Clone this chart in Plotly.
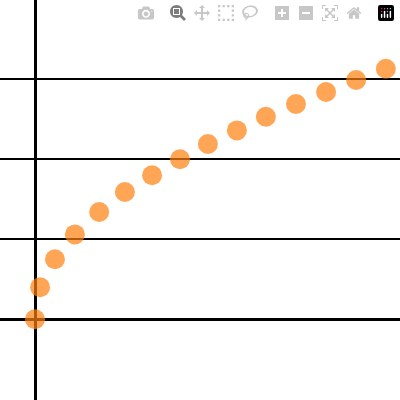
import plotly.graph_objects as go

x_vals = [0, 0.14, 0.55, 1.1, 1.77, 2.48, 3.23, 4.0, 4.77, 5.57, 6.37, 7.2, 8.03, 8.86, 9.68]
y_vals = [0, 0.4, 0.75, 1.06, 1.34, 1.59, 1.8, 2.0, 2.19, 2.36, 2.53, 2.69, 2.84, 2.99, 3.13]

fig = go.Figure(go.Scatter(x=x_vals, y=y_vals, mode="markers",
                           marker=dict(size=20, color="#FF7F0E", opacity=0.7, line=dict(width=0))))
fig.update_layout(width=400, height=400, margin=dict(l=0, r=0, t=0, b=0),
                  plot_bgcolor="white", paper_bgcolor="white", showlegend=False)
fig.update_xaxes(range=[-0.966, 10.07], showgrid=False, zeroline=True, zerolinecolor="black",
                 zerolinewidth=3, showticklabels=False, ticks="")
fig.update_yaxes(range=[-1.01, 3.99], showgrid=True, gridcolor="black", gridwidth=2,
                 dtick=1, zeroline=True, zerolinecolor="black", zerolinewidth=3,
                 showticklabels=False, ticks="")
fig.write_html("out.html", post_script="document.body.style.margin='0';")
